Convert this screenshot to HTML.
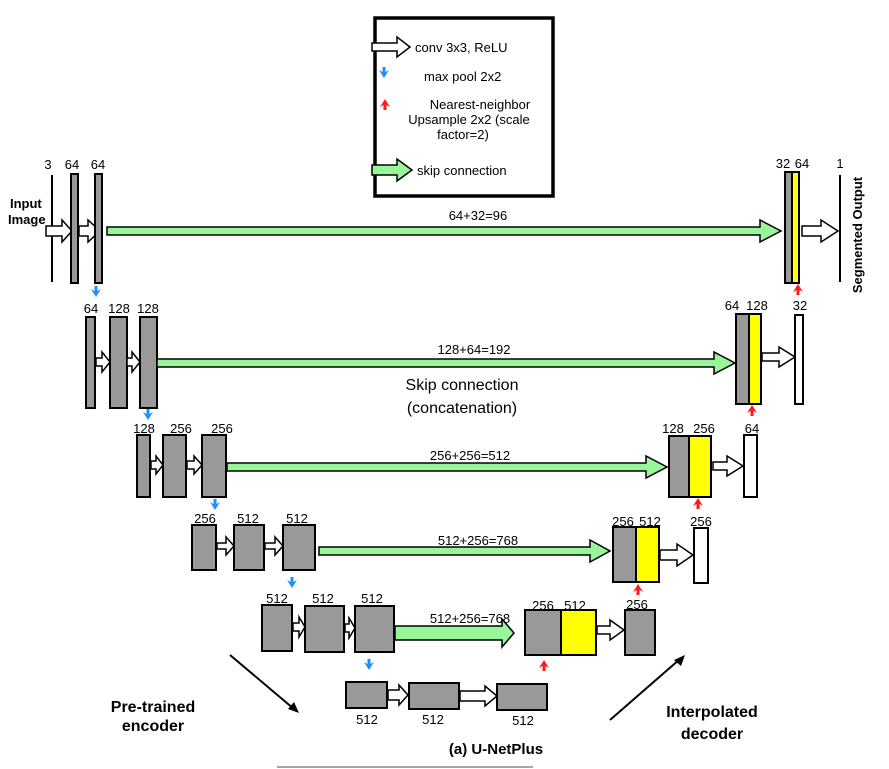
<!DOCTYPE html>
<html><head><style>body{margin:0;background:#fff}svg{display:block}text{font-family:"Liberation Sans",sans-serif;fill:#000}</style></head><body>
<svg width="889" height="769" viewBox="0 0 889 769" xmlns="http://www.w3.org/2000/svg">
<defs>
<g id="blue"><polygon points="-1.5,0 1.5,0 1.5,5 5,3 0,11 -5,3 -1.5,5" fill="#1e8fff"/></g>
<g id="red"><polygon points="-1.5,11 1.5,11 1.5,6 5,8 0,0 -5,8 -1.5,6" fill="#ff1a1a"/></g>
</defs>
<!-- legend -->
<rect x="375" y="18" width="178" height="178" fill="#fff" stroke="#000" stroke-width="3.5"/>
<polygon points="372,43 397,43 397,37 410,47 397,57 397,51 372,51" fill="#fff" stroke="#000" stroke-width="1.5"/>
<text x="415" y="52" font-size="13">conv 3x3, ReLU</text>
<use href="#blue" x="384" y="67"/>
<text x="424" y="81" font-size="13">max pool 2x2</text>
<use href="#red" x="385" y="99"/>
<text x="480" y="109" font-size="13" text-anchor="middle">Nearest-neighbor</text>
<text x="469" y="124" font-size="13" text-anchor="middle">Upsample 2x2 (scale</text>
<text x="463" y="139" font-size="13" text-anchor="middle">factor=2)</text>
<polygon points="372,165 397,165 397,159 412,170 397,181 397,175 372,175" fill="#99f599" stroke="#000" stroke-width="1.5"/>
<text x="417" y="175" font-size="13">skip connection</text>

<g stroke="#000" stroke-width="2">
<!-- row1 -->
<line x1="52" y1="175" x2="52" y2="282"/>
<polygon points="46,226 62,226 62,220 72,231 62,242 62,236 46,236" fill="#fff" stroke-width="1.5"/>
<rect x="71" y="174" width="7" height="109" fill="#999"/>
<polygon points="79,226 88,226 88,220 100,231 88,242 88,236 79,236" fill="#fff" stroke-width="1.5"/>
<rect x="95" y="174" width="7" height="109" fill="#999"/>
<polygon points="107,227 760,227 760,220 781,231 760,242 760,235 107,235" fill="#99f599" stroke-width="1.5"/>
<rect x="785" y="172" width="7" height="111" fill="#999"/>
<rect x="792" y="172" width="7" height="111" fill="#ff0"/>
<polygon points="802,226 821,226 821,220 838,231 821,242 821,236 802,236" fill="#fff" stroke-width="1.5"/>
<line x1="840" y1="175" x2="840" y2="282"/>
<!-- row2 -->
<rect x="86" y="317" width="9" height="91" fill="#999"/>
<polygon points="96,358 102,358 102,352 110,362 102,372 102,366 96,366" fill="#fff" stroke-width="1.5"/>
<rect x="110" y="317" width="17" height="91" fill="#999"/>
<polygon points="127,358 132,358 132,352 140,362 132,372 132,366 127,366" fill="#fff" stroke-width="1.5"/>
<rect x="140" y="317" width="17" height="91" fill="#999"/>
<polygon points="157,359 714,359 714,352 735,363 714,374 714,367 157,367" fill="#99f599" stroke-width="1.5"/>
<rect x="736" y="314" width="13" height="90" fill="#999"/>
<rect x="749" y="314" width="12" height="90" fill="#ff0"/>
<polygon points="762,353 779,353 779,347 795,357 779,367 779,361 762,361" fill="#fff" stroke-width="1.5"/>
<rect x="795" y="315" width="8" height="89" fill="#fff"/>
<!-- row3 -->
<rect x="137" y="435" width="13" height="62" fill="#999"/>
<polygon points="151,461 156,461 156,456 163,465 156,474 156,469 151,469" fill="#fff" stroke-width="1.5"/>
<rect x="163" y="435" width="23" height="62" fill="#999"/>
<polygon points="187,461 194,461 194,456 202,465 194,474 194,469 187,469" fill="#fff" stroke-width="1.5"/>
<rect x="202" y="435" width="24" height="62" fill="#999"/>
<polygon points="227,463 646,463 646,456 667,467 646,478 646,471 227,471" fill="#99f599" stroke-width="1.5"/>
<rect x="669" y="436" width="20" height="61" fill="#999"/>
<rect x="689" y="436" width="22" height="61" fill="#ff0"/>
<polygon points="713,462 727,462 727,456 743,466 727,476 727,470 713,470" fill="#fff" stroke-width="1.5"/>
<rect x="744" y="435" width="13" height="62" fill="#fff"/>
<!-- row4 -->
<rect x="192" y="525" width="24" height="45" fill="#999"/>
<polygon points="217,543 226,543 226,537 234,546 226,555 226,549 217,549" fill="#fff" stroke-width="1.5"/>
<rect x="234" y="525" width="30" height="45" fill="#999"/>
<polygon points="265,543 275,543 275,537 283,546 275,555 275,549 265,549" fill="#fff" stroke-width="1.5"/>
<rect x="283" y="525" width="32" height="45" fill="#999"/>
<polygon points="319,547 590,547 590,540 610,551 590,562 590,555 319,555" fill="#99f599" stroke-width="1.5"/>
<rect x="613" y="527" width="23" height="55" fill="#999"/>
<rect x="636" y="527" width="23" height="55" fill="#ff0"/>
<polygon points="660,550 677,550 677,544 693,555 677,566 677,560 660,560" fill="#fff" stroke-width="1.5"/>
<rect x="694" y="528" width="14" height="55" fill="#fff"/>
<!-- row5 -->
<rect x="262" y="605" width="30" height="46" fill="#999"/>
<polygon points="293,623 299,623 299,617 305,627 299,637 299,631 293,631" fill="#fff" stroke-width="1.5"/>
<rect x="305" y="606" width="39" height="46" fill="#999"/>
<polygon points="345,624 349,624 349,618 355,628 349,638 349,632 345,632" fill="#fff" stroke-width="1.5"/>
<rect x="355" y="606" width="39" height="46" fill="#999"/>
<polygon points="395,626 502,626 502,619 514,633 502,647 502,640 395,640" fill="#99f599" stroke-width="1.5"/>
<rect x="525" y="610" width="36" height="45" fill="#999"/>
<rect x="561" y="610" width="35" height="45" fill="#ff0"/>
<polygon points="597,626 610,626 610,620 624,630 610,640 610,634 597,634" fill="#fff" stroke-width="1.5"/>
<rect x="625" y="610" width="30" height="45" fill="#999"/>
<!-- row6 -->
<rect x="346" y="682" width="41" height="26" fill="#999"/>
<polygon points="388,690 399,690 399,685 408,695 399,705 399,700 388,700" fill="#fff" stroke-width="1.5"/>
<rect x="409" y="683" width="50" height="26" fill="#999"/>
<polygon points="460,691 485,691 485,686 497,696 485,706 485,701 460,701" fill="#fff" stroke-width="1.5"/>
<rect x="497" y="684" width="50" height="26" fill="#999"/>
<!-- diagonal arrows -->
<line x1="230" y1="655" x2="294" y2="709"/>
<polygon points="299,713 288,709 294,702" fill="#000" stroke="none"/>
<line x1="610" y1="720" x2="680" y2="659"/>
<polygon points="685,655 681,666 674,660" fill="#000" stroke="none"/>
</g>
<line x1="277" y1="767" x2="533" y2="767" stroke="#888" stroke-width="1.5"/>
<use href="#blue" x="96" y="286"/><use href="#blue" x="148" y="409"/><use href="#blue" x="215" y="499"/><use href="#blue" x="292" y="577"/><use href="#blue" x="369" y="659"/>
<use href="#red" x="798" y="284"/><use href="#red" x="752" y="405"/><use href="#red" x="698" y="498"/><use href="#red" x="638" y="584"/><use href="#red" x="544" y="660"/>
<g font-size="13" text-anchor="middle">
<text x="48" y="169">3</text><text x="72" y="169">64</text><text x="98" y="169">64</text>
<text x="783" y="168">32</text><text x="802" y="168">64</text><text x="840" y="168">1</text>
<text x="478" y="220">64+32=96</text>
<text x="91" y="313">64</text><text x="119" y="313">128</text><text x="148" y="313">128</text>
<text x="732" y="310">64</text><text x="757" y="310">128</text><text x="800" y="310">32</text>
<text x="474" y="354">128+64=192</text>
<text x="144" y="433">128</text><text x="181" y="433">256</text><text x="222" y="433">256</text>
<text x="673" y="433">128</text><text x="704" y="433">256</text><text x="752" y="433">64</text>
<text x="470" y="460">256+256=512</text>
<text x="205" y="523">256</text><text x="248" y="523">512</text><text x="297" y="523">512</text>
<text x="623" y="526">256</text><text x="650" y="526">512</text><text x="701" y="526">256</text>
<text x="478" y="545">512+256=768</text>
<text x="277" y="603">512</text><text x="323" y="603">512</text><text x="372" y="603">512</text>
<text x="543" y="610">256</text><text x="575" y="610">512</text><text x="637" y="609">256</text>
<text x="470" y="623">512+256=768</text>
<text x="367" y="724">512</text><text x="433" y="724">512</text><text x="523" y="725">512</text>
</g>
<text x="10" y="208" font-size="13" font-weight="bold">Input</text>
<text x="8" y="224" font-size="13" font-weight="bold">Image</text>
<text transform="translate(862,235) rotate(-90)" font-size="13" font-weight="bold" text-anchor="middle">Segmented Output</text>
<text x="462" y="390" font-size="16" text-anchor="middle">Skip connection</text>
<text x="462" y="413" font-size="16" text-anchor="middle">(concatenation)</text>
<text x="153" y="712" font-size="16" font-weight="bold" text-anchor="middle">Pre-trained</text>
<text x="153" y="731" font-size="16" font-weight="bold" text-anchor="middle">encoder</text>
<text x="712" y="717" font-size="16" font-weight="bold" text-anchor="middle">Interpolated</text>
<text x="712" y="739" font-size="16" font-weight="bold" text-anchor="middle">decoder</text>
<text x="496" y="754" font-size="15" font-weight="bold" text-anchor="middle">(a) U-NetPlus</text>
</svg>
</body></html>
